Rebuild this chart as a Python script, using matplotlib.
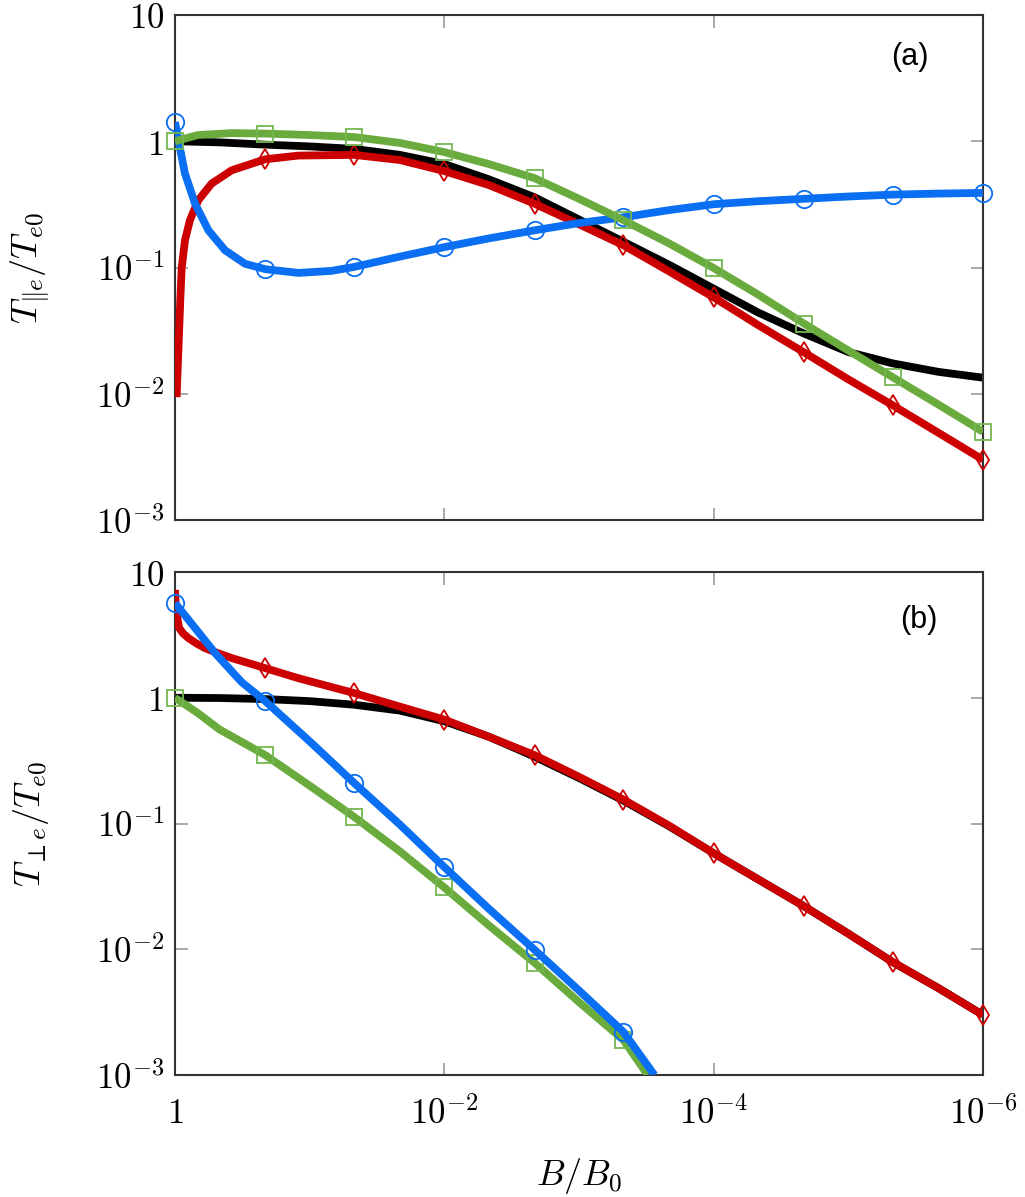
import numpy as np
import matplotlib
matplotlib.use("Agg")
import matplotlib.pyplot as plt

plt.rcParams['mathtext.fontset'] = 'cm'
plt.rcParams['font.family'] = ['DejaVu Sans']

# ---- data (x given as decades below 1: B/B0 = 10**-d) ----
# panel (a)
black_a_d = [0, 0.33, 0.67, 1.0, 1.33, 1.67, 2.0, 2.33, 2.67, 3.0, 3.33, 3.67, 4.0, 4.33, 4.67, 5.0, 5.33, 5.67, 6.0]
black_a_y = [1.0, 0.98, 0.94, 0.91, 0.87, 0.78, 0.66, 0.5, 0.36, 0.24, 0.16, 0.105, 0.068, 0.044, 0.030, 0.0214, 0.0174, 0.0149, 0.0134]

green_a_d = [0, 0.17, 0.42, 0.67, 1.0, 1.33, 1.67, 2.0, 2.33, 2.67, 3.0, 3.33, 3.67, 4.0, 4.33, 4.67, 5.0, 5.33, 5.67, 6.0]
green_a_y = [1.0, 1.12, 1.16, 1.15, 1.12, 1.08, 0.97, 0.82, 0.66, 0.51, 0.35, 0.237, 0.155, 0.099, 0.061, 0.036, 0.022, 0.0135, 0.0082, 0.0050]

red_a_d = [0.012, 0.022, 0.03, 0.04, 0.05, 0.074, 0.111, 0.173, 0.272, 0.421, 0.67, 0.916, 1.33, 1.67, 2.0, 2.33, 2.67, 3.0, 3.33, 3.67, 4.0, 4.33, 4.67, 5.0, 5.33, 5.67, 6.0]
red_a_y = [0.0094, 0.018, 0.030, 0.058, 0.10, 0.164, 0.237, 0.341, 0.462, 0.589, 0.72, 0.77, 0.78, 0.71, 0.58, 0.45, 0.32, 0.22, 0.15, 0.093, 0.058, 0.035, 0.0213, 0.013, 0.0081, 0.0049, 0.0030]

blue_a_d = [0, 0.025, 0.074, 0.149, 0.248, 0.371, 0.52, 0.67, 0.916, 1.16, 1.33, 1.67, 2.0, 2.33, 2.67, 3.0, 3.33, 3.67, 4.0, 4.33, 4.67, 5.0, 5.33, 5.67, 6.0]
blue_a_y = [1.42, 1.02, 0.555, 0.32, 0.197, 0.137, 0.107, 0.097, 0.0906, 0.094, 0.101, 0.122, 0.145, 0.17, 0.197, 0.225, 0.25, 0.285, 0.317, 0.335, 0.35, 0.365, 0.378, 0.385, 0.39]

# panel (b)
black_b_d = [0, 0.33, 0.67, 1.0, 1.33, 1.67, 2.0, 2.33, 2.67, 3.0, 3.33, 3.67, 4.0, 4.33, 4.67, 5.0, 5.33, 5.67, 6.0]
black_b_y = [1.0, 0.995, 0.976, 0.94, 0.88, 0.79, 0.65, 0.49, 0.34, 0.23, 0.152, 0.095, 0.058, 0.036, 0.022, 0.0133, 0.0079, 0.0049, 0.0030]

red_b_d = [0, 0.006, 0.014, 0.03, 0.06, 0.1, 0.16, 0.223, 0.32, 0.42, 0.67, 0.916, 1.33, 1.67, 2.0, 2.33, 2.67, 3.0, 3.33, 3.67, 4.0, 4.33, 4.67, 5.0, 5.33, 5.67, 6.0]
red_b_y = [7.2, 5.4, 4.5, 3.6, 3.25, 2.98, 2.7, 2.48, 2.26, 2.07, 1.72, 1.43, 1.09, 0.85, 0.67, 0.49, 0.35, 0.235, 0.155, 0.096, 0.058, 0.036, 0.022, 0.0133, 0.0079, 0.0049, 0.0030]

blue_b_d = [0, 0.1, 0.297, 0.495, 0.67, 1.0, 1.33, 1.67, 2.0, 2.33, 2.67, 3.0, 3.33, 3.56]
blue_b_y = [5.66, 4.17, 2.27, 1.33, 0.94, 0.45, 0.21, 0.098, 0.045, 0.021, 0.0099, 0.0047, 0.0022, 0.001]

green_b_d = [0, 0.17, 0.33, 0.67, 1.0, 1.33, 1.67, 2.0, 2.33, 2.67, 3.0, 3.33, 3.51]
green_b_y = [1.0, 0.755, 0.56, 0.35, 0.2, 0.113, 0.06, 0.031, 0.0155, 0.0078, 0.0038, 0.0019, 0.001]

marker_d = [0, 0.67, 1.33, 2.0, 2.67, 3.33, 4.0, 4.67, 5.33, 6.0]

x_ticks = [1, 1e-2, 1e-4, 1e-6]
x_ticklabels = ['$1$', '$10^{-2}$', '$10^{-4}$', '$10^{-6}$']
y_ticks = [1e-3, 1e-2, 1e-1, 1, 10]
y_ticklabels = ['$10^{-3}$', '$10^{-2}$', '$10^{-1}$', '$1$', '$10$']

BLUE = '#0a6ff2'
RED = '#cc0000'
GREEN = '#6aab3d'
BLACK = '#000000'
LW = 5.6


def idx_markers(dlist, skip_first=False):
    arr = np.array(dlist, dtype=float)
    out = []
    for m in marker_d:
        if skip_first and m == 0:
            continue
        i = int(np.argmin(np.abs(arr - m)))
        if abs(arr[i] - m) < 0.006:
            out.append(i)
    return out


def draw(ax, d, y, color, marker=None, ms=12, mec=None, z=2, skip_first=False):
    x = 10.0 ** (-np.array(d, dtype=float))
    ax.plot(x, y, color=color, lw=LW, solid_capstyle='butt', solid_joinstyle='round', zorder=z)
    if marker:
        idx = idx_markers(d, skip_first)
        ax.plot(x[idx], np.array(y)[idx], ls='none', marker=marker, ms=ms,
                mfc='none', mec=mec or color, mew=1.3, zorder=z + 0.5, clip_on=False)


fig = plt.figure(figsize=(10.25, 11.97), dpi=100)
W, H = 1025, 1197
L, R = 175, 983
ax_a = fig.add_axes([L / W, 1 - 520 / H, (R - L) / W, (520 - 15) / H])
ax_b = fig.add_axes([L / W, 1 - 1075 / H, (R - L) / W, (1075 - 572) / H])

for ax in (ax_a, ax_b):
    ax.set_xscale('log')
    ax.set_yscale('log')
    ax.set_xlim(1, 1e-6)
    ax.set_ylim(1e-3, 10)
    ax.set_xticks(x_ticks)
    ax.set_yticks(y_ticks)
    ax.set_yticklabels(y_ticklabels)
    ax.minorticks_off()
    ax.tick_params(which='both', direction='in', length=9, width=1.2, color='#999999',
                   top=True, right=True, labelsize=25)
    ax.tick_params(axis='y', pad=8)
    ax.tick_params(axis='x', pad=15)
    for s in ax.spines.values():
        s.set_color('#333333')
        s.set_linewidth(1.5)

ax_a.set_xticklabels([])
ax_b.set_xticklabels(x_ticklabels)

# panel (a)
draw(ax_a, black_a_d, black_a_y, BLACK, z=2)
draw(ax_a, red_a_d, red_a_y, RED, marker='d', ms=10, z=3)
draw(ax_a, blue_a_d, blue_a_y, BLUE, marker='o', ms=12.5, z=4)
draw(ax_a, green_a_d, green_a_y, GREEN, marker='s', ms=12, mec='#74b650', z=5)

# panel (b)
draw(ax_b, black_b_d, black_b_y, BLACK, z=2)
draw(ax_b, red_b_d, red_b_y, RED, marker='d', ms=10, z=3, skip_first=True)
draw(ax_b, green_b_d, green_b_y, GREEN, marker='s', ms=12, mec='#74b650', z=4)
draw(ax_b, blue_b_d, blue_b_y, BLUE, marker='o', ms=12.5, z=5)

ax_a.set_ylabel(r'$T_{\|e}/T_{e0}$', fontsize=26, labelpad=32)
ax_b.set_ylabel(r'$T_{\perp e}/T_{e0}$', fontsize=26, labelpad=32)
ax_b.set_xlabel(r'$B/B_0$', fontsize=26, labelpad=18)

ax_a.text(0.91, 0.917, '(a)', transform=ax_a.transAxes, fontsize=22,
          family='Liberation Sans', ha='center', va='center')
ax_b.text(0.921, 0.905, '(b)', transform=ax_b.transAxes, fontsize=22,
          family='Liberation Sans', ha='center', va='center')

fig.savefig('out.png', dpi=100)
